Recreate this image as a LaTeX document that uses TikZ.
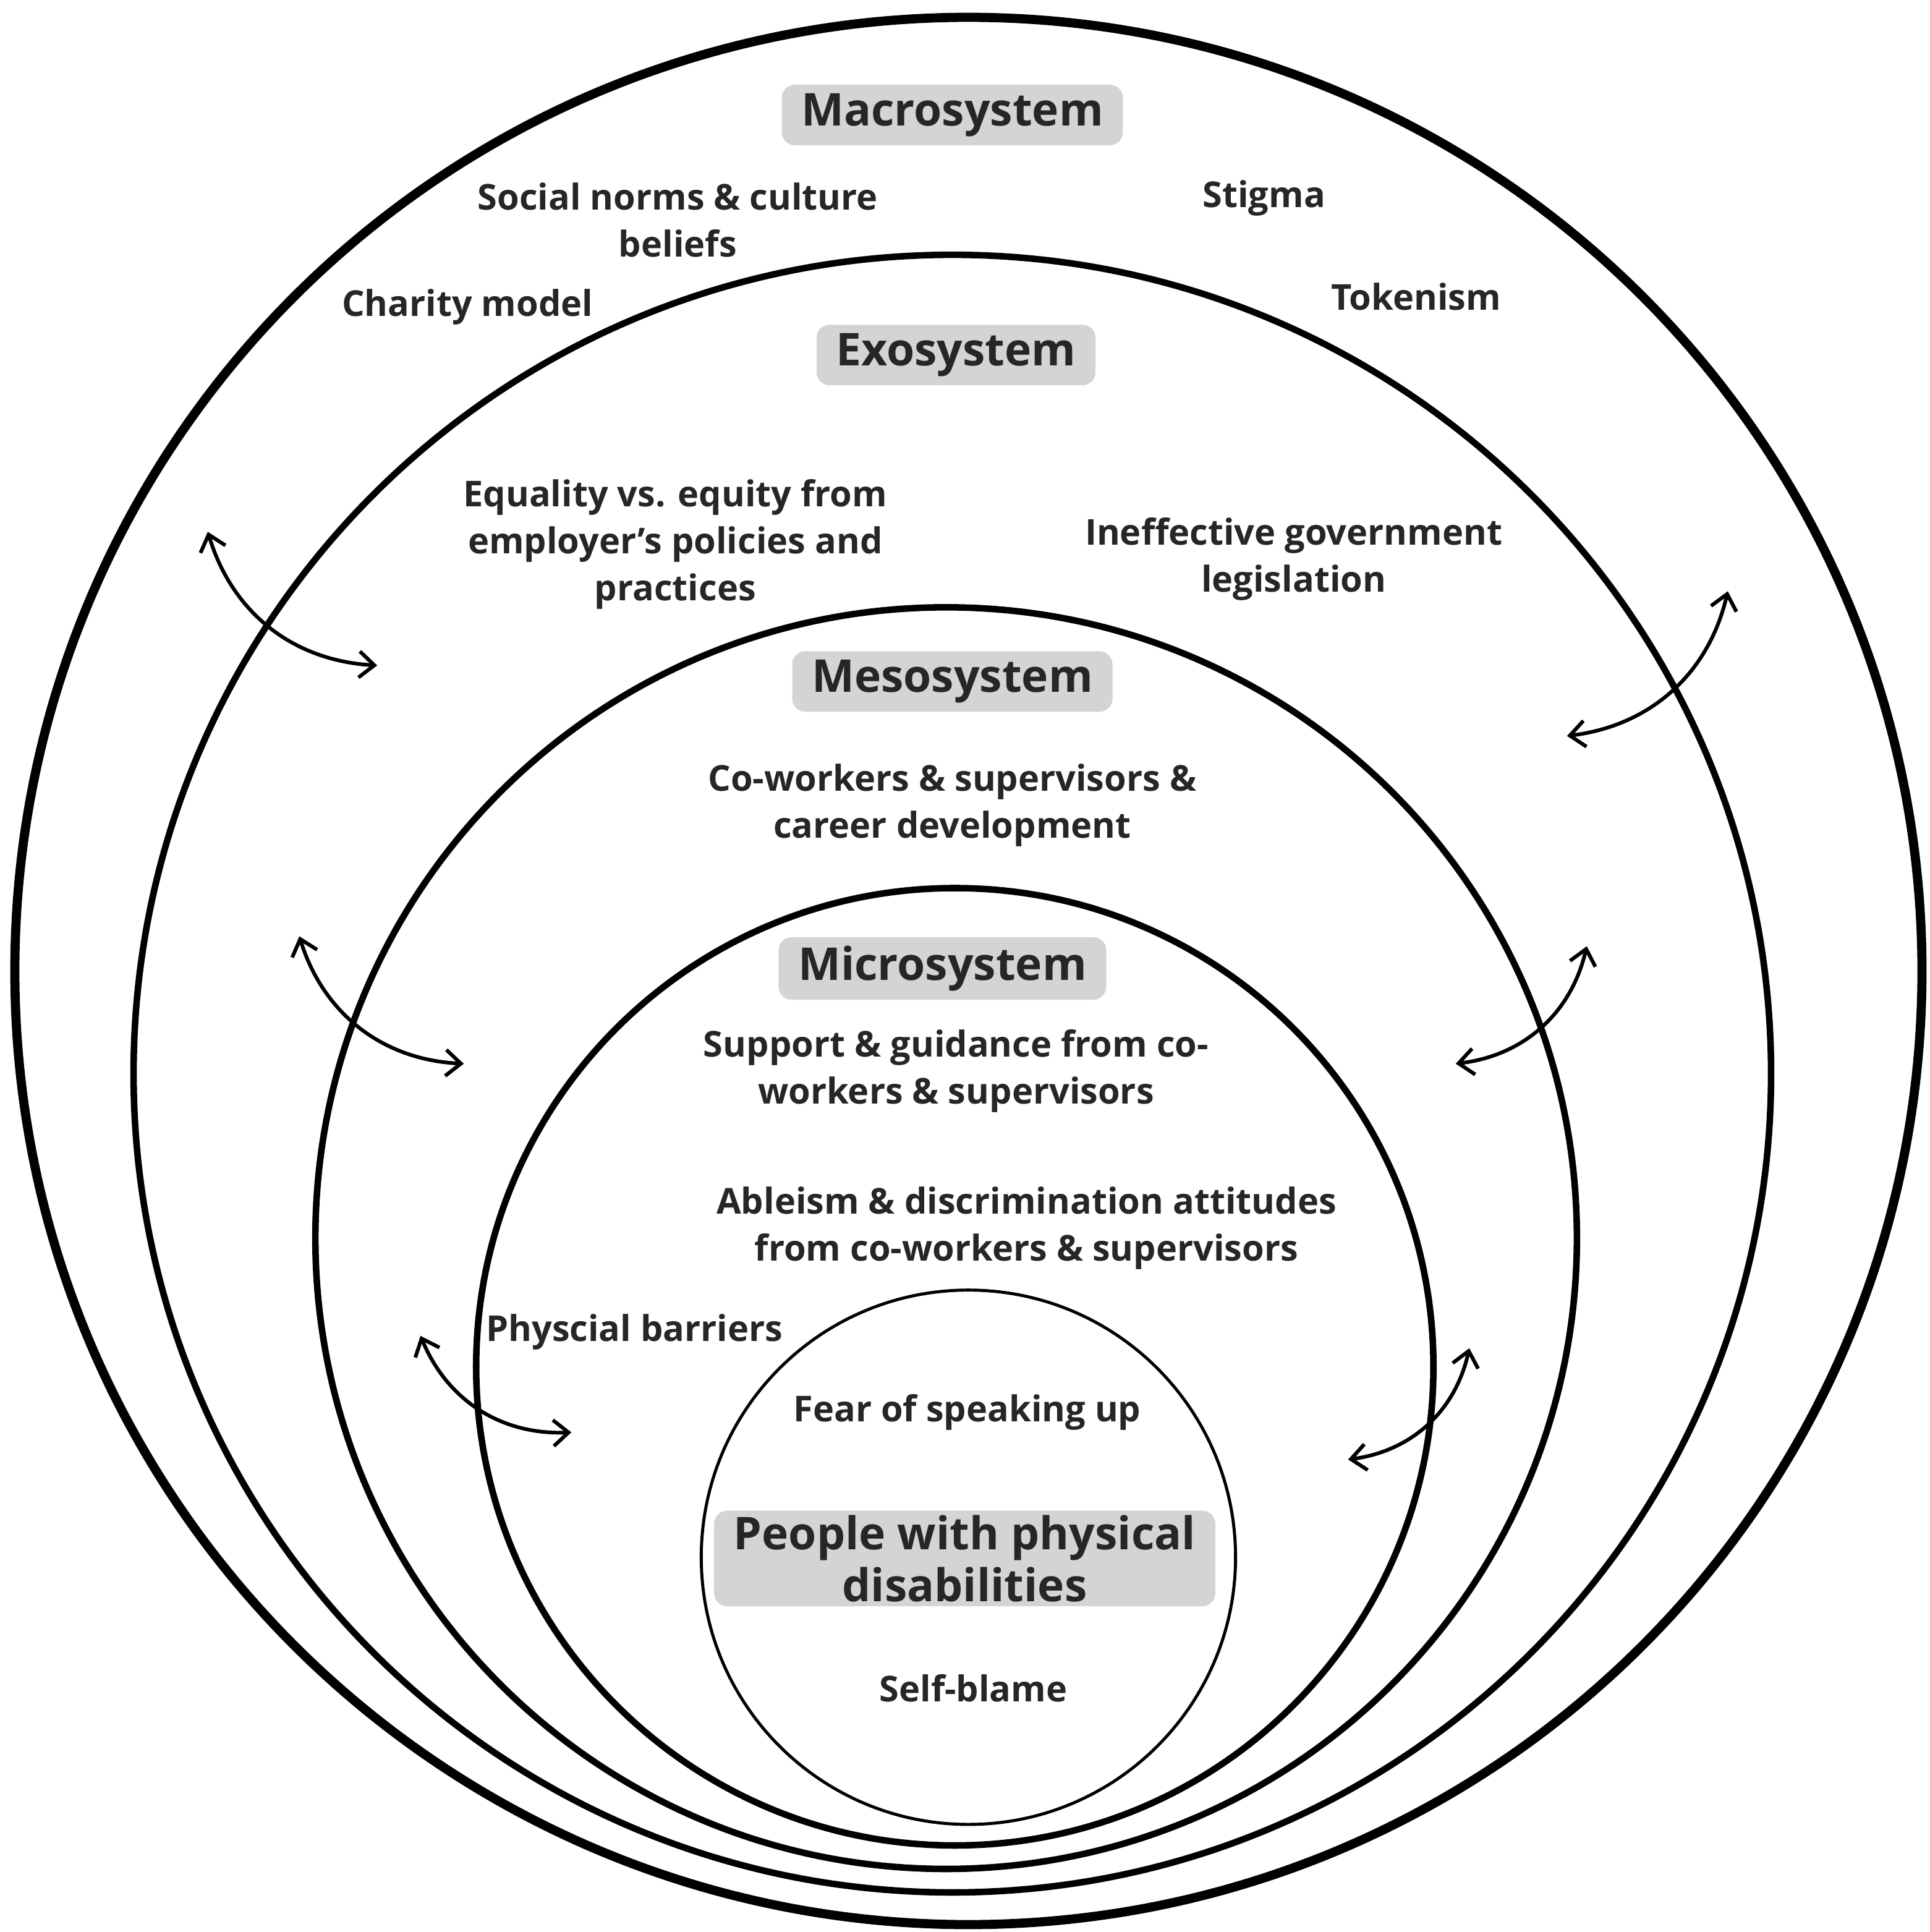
\documentclass[tikz,border=0pt]{standalone}
\usepackage{fontspec}
\setmainfont{Open Sans}
\usetikzlibrary{arrows.meta}
\tikzset{
  ring/.style={draw=black, line width=3pt},
  head/.style={fill=black!17, rounded corners=6pt, inner xsep=9pt, inner ysep=4pt, align=center, font=\fontsize{20.8}{24}\selectfont\bfseries, text=black!85},
  txt/.style={align=center, font=\fontsize{16.4}{21.5}\selectfont\bfseries, text=black!85},
  link/.style={{Straight Barb[length=7pt,width=12pt]}-{Straight Barb[length=7pt,width=12pt]}, line width=1.7pt}
}
\begin{document}
\begin{tikzpicture}[x=0.02cm, y=-0.02cm]
\useasboundingbox (0,0) rectangle (1560,1562);
% rings
\draw[ring, line width=4.2pt] (783,785) circle (771);
\draw[ring] (770,868) circle (662);
\draw[ring] (765,1001) circle (510);
\draw[ring] (772,1105) circle (387);
\draw[line width=1.4pt] (783,1259) circle (216);
% headings
\node[head] (macro) at (770,93) {Macrosystem};
\node[head] (exo) at (773,287) {Exosystem};
\node[head] (meso) at (770,551) {Mesosystem};
\node[head] (micro) at (762,783) {Microsystem};
\node[head, inner ysep=2pt] (people) at (780,1260) {People with physical\\disabilities};
% factors
\node[txt] (norms) at (548,178) {Social norms \& culture\\beliefs};
\node[txt] (stigma) at (1022,160) {Stigma};
\node[txt] (charity) at (378,248) {Charity model};
\node[txt] (token) at (1145,240) {Tokenism};
\node[txt] (equality) at (546,440) {Equality vs. equity from\\employer’s policies and\\practices};
\node[txt] (govt) at (1046,452) {Ineffective government\\legislation};
\node[txt] (cowork) at (770,651) {Co-workers \& supervisors \&\\career development};
\node[txt] (support) at (773,866) {Support \& guidance from co-\\workers \& supervisors};
\node[txt] (ableism) at (830,993) {Ableism \& discrimination attitudes\\from co-workers \& supervisors};
\node[txt] (barriers) at (513,1077) {Physcial barriers};
\node[txt] (fear) at (782,1142) {Fear of speaking up};
\node[txt] (blame) at (787,1365) {Self-blame};
% interactions
\coordinate (a1) at (168,430); \coordinate (b1) at (305,538);
\coordinate (a2) at (1397,478); \coordinate (b2) at (1267,595);
\coordinate (a3) at (242,757); \coordinate (b3) at (375,860);
\coordinate (a4) at (1283,765); \coordinate (b4) at (1177,860);
\coordinate (a5) at (340,1080); \coordinate (b5) at (462,1158);
\coordinate (a6) at (1188,1090); \coordinate (b6) at (1090,1180);
\foreach \i in {1,3,5}
  \draw[link] (a\i) to[bend right=35] (b\i);
\foreach \i in {2,4,6}
  \draw[link] (a\i) to[bend left=35] (b\i);
\end{tikzpicture}
\end{document}
